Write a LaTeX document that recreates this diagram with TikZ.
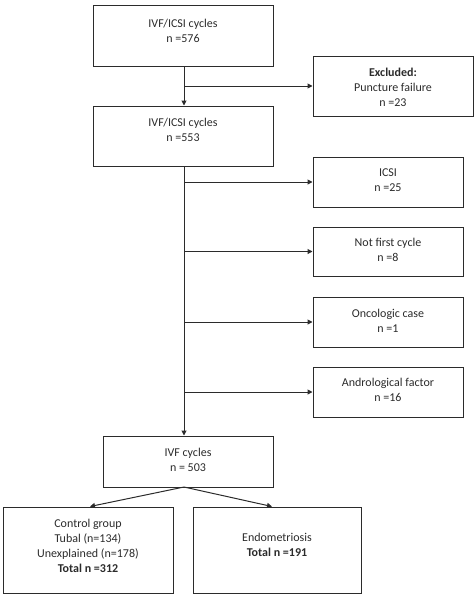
\documentclass[tikz,border=0pt]{standalone}
\usepackage{fontspec}
\setmainfont{Carlito}
\usetikzlibrary{arrows.meta}
\definecolor{ink}{HTML}{2B2B2B}
\tikzset{
  box/.style={draw=ink, line width=1pt, rectangle, inner sep=0pt},
  txt/.style={align=center, text=ink, inner sep=0pt, font=\fontsize{12}{15}\selectfont},
  arr/.style={draw=ink, line width=1pt, -{Triangle[length=5pt,width=5pt]}},
  ln/.style={draw=ink, line width=1pt}
}
\begin{document}
\begin{tikzpicture}[x=1pt,y=-1pt]
\useasboundingbox (0,0) rectangle (474,600);
% boxes
\node[box, minimum width=180, minimum height=61] (b1) at (183,35.5) {};
\node[txt] (b1t) at (183,30.5) {IVF/ICSI cycles\\n =576};
\node[box, minimum width=180, minimum height=60] (b2) at (183,136) {};
\node[txt] (b2t) at (183,130) {IVF/ICSI cycles\\n =553};
\node[box, minimum width=160, minimum height=60] (exc) at (393,86) {};
\node[txt] (exct) at (393,87) {\textbf{Excluded:}\\Puncture failure\\n =23};
\node[box, minimum width=150, minimum height=50] (icsi) at (388,182) {};
\node[txt] (icsit) at (388,180) {ICSI\\n =25};
\node[box, minimum width=150, minimum height=49] (nfc) at (388,251.5) {};
\node[txt] (nfct) at (388,250) {Not first cycle\\n =8};
\node[box, minimum width=150, minimum height=50] (onc) at (388,322) {};
\node[txt] (onct) at (388,320.5) {Oncologic case\\n =1};
\node[box, minimum width=150, minimum height=50] (andro) at (388,392) {};
\node[txt] (androt) at (388,390) {Andrological factor\\n =16};
\node[box, minimum width=170, minimum height=51] (ivf) at (188,461.5) {};
\node[txt] (ivft) at (188,460) {IVF cycles\\n = 503};
\node[box, minimum width=170, minimum height=86] (ctrl) at (88,550) {};
\node[txt] (ctrlt) at (88,545.5) {Control group\\Tubal (n=134)\\Unexplained (n=178)\\\textbf{Total n =312}};
\node[box, minimum width=168, minimum height=86] (endo) at (277,550) {};
\node[txt] (endot) at (277,545) {Endometriosis\\\textbf{Total n =191}};
% connectors
\coordinate (s1) at (184,66);
\coordinate (s2) at (184,166);
\coordinate (s3) at (184,487);
\draw[arr] (s1) -- (s1 |- b2.north);
\draw[arr] (s1 |- exc.west) -- (exc.west);
\draw[arr] (s2) -- (s2 |- ivf.north);
\draw[arr] (s2 |- icsi.west) -- (icsi.west);
\draw[arr] (s2 |- nfc.west) -- (nfc.west);
\draw[arr] (s2 |- onc.west) -- (onc.west);
\draw[arr] (s2 |- andro.west) -- (andro.west);
\draw[arr] (s3) -- ([xshift=2pt]ctrl.north);
\draw[arr] (s3) -- ([xshift=-5pt]endo.north);
\end{tikzpicture}
\end{document}
